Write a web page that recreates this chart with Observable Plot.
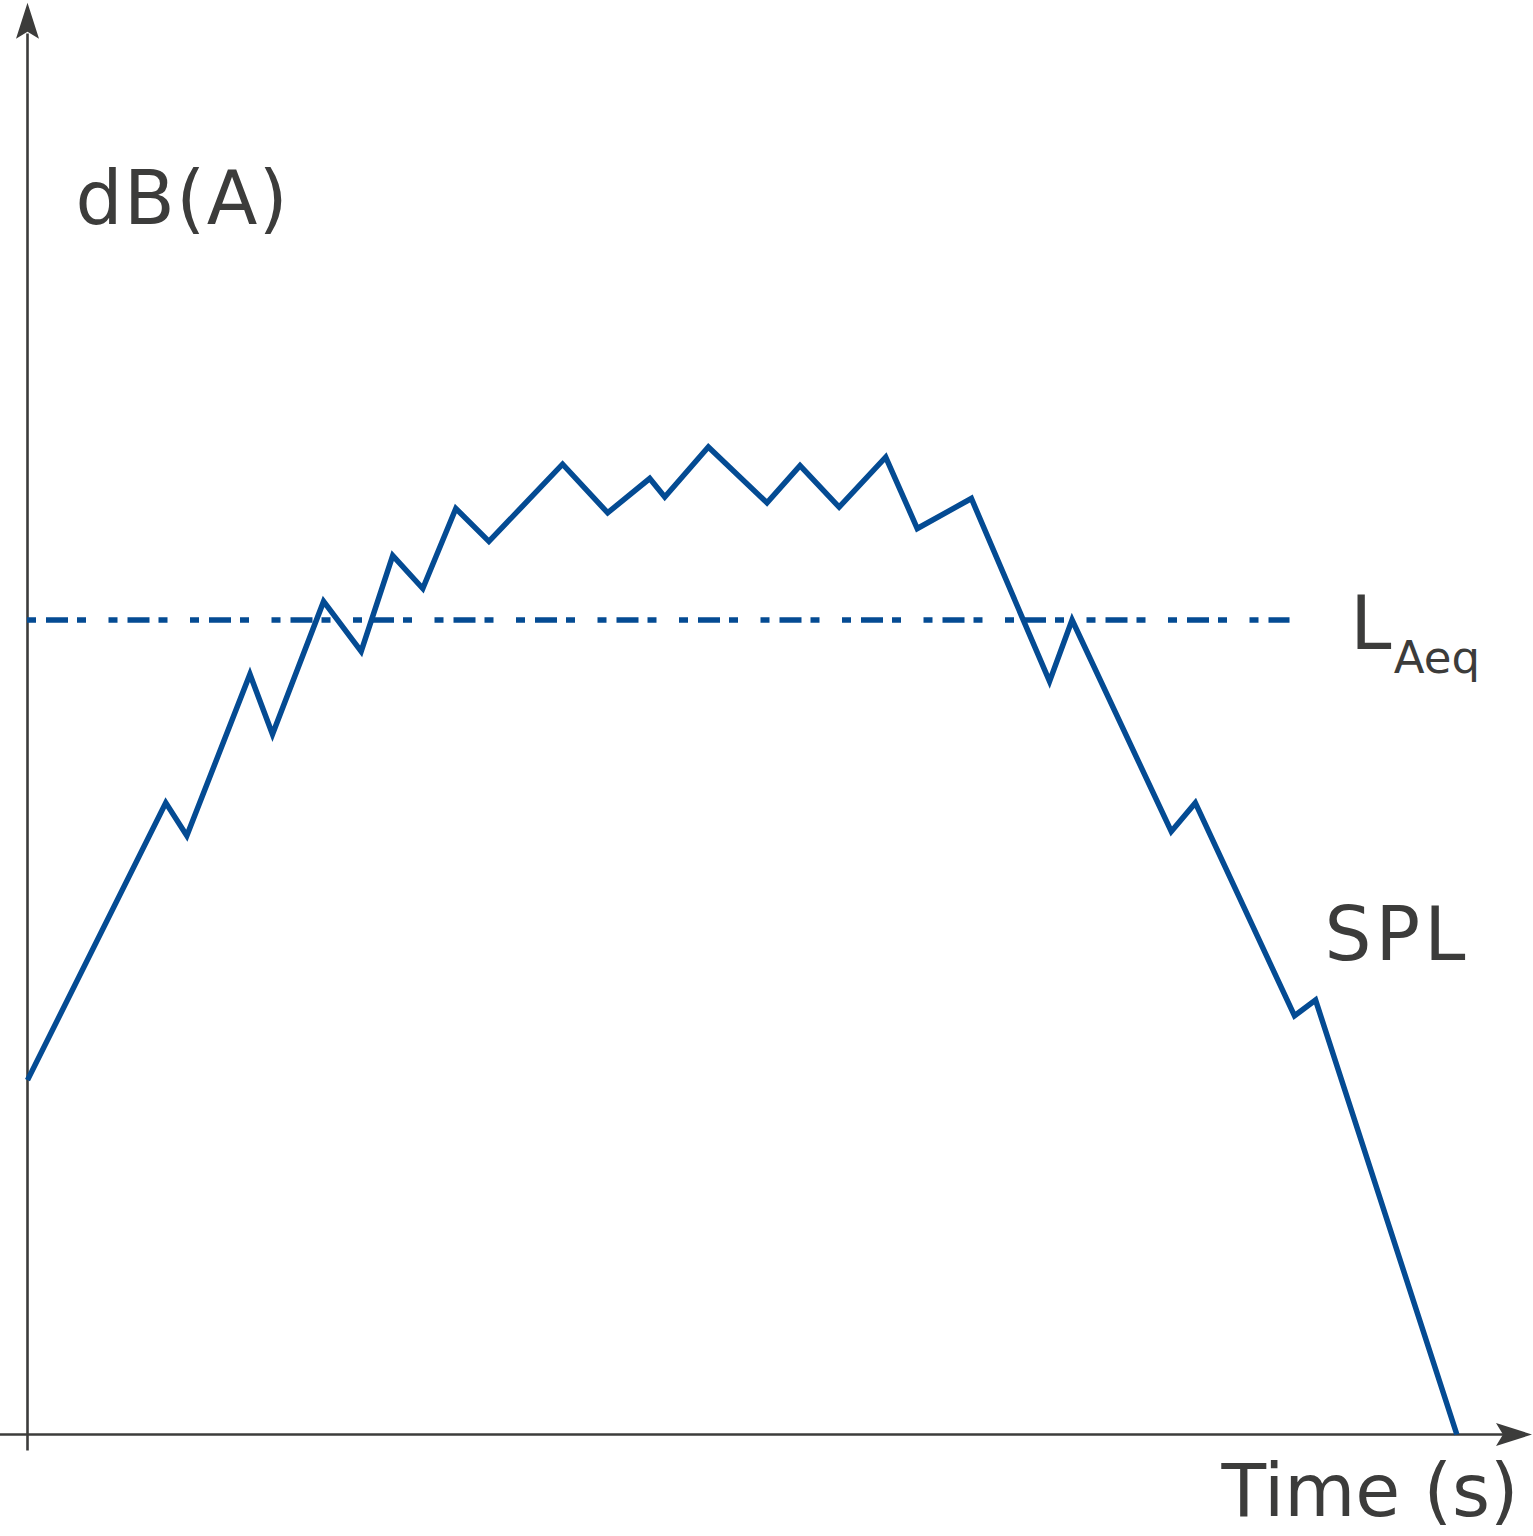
<!DOCTYPE html>
<html>
<head>
<meta charset="utf-8">
<script src="https://cdn.jsdelivr.net/npm/d3@7"></script>
<script src="https://cdn.jsdelivr.net/npm/@observablehq/plot@0.6"></script>
<style>
  html, body { margin: 0; padding: 0; background: #fff; }
</style>
</head>
<body>
<div id="chart"></div>
<script>
// SPL time series (time in arbitrary units 0–100, level in arbitrary units 0–100)
const splTime  = [0, 9.2, 10.6, 14.8, 16.3, 19.7, 22.2, 24.3, 26.3, 28.5, 30.7, 35.6, 38.6, 41.4, 42.4, 45.3, 49.2, 51.4, 54.0, 57.1, 59.2, 62.8, 68.0, 69.5, 76.1, 77.7, 84.3, 85.7, 95.1];
const splLevel = [24.8, 44.2, 41.9, 53.2, 49.0, 58.3, 54.8, 61.5, 59.2, 64.8, 62.5, 67.9, 64.5, 66.9, 65.6, 69.1, 65.2, 67.8, 64.9, 68.4, 63.4, 65.5, 52.7, 57.0, 42.2, 44.2, 29.3, 30.4, 0];

// Equivalent continuous level
const laeqLevel = [57.0];
const laeqEnd = 84.0;

// Labels
const yAxisLabel = ["dB(A)"];
const xAxisLabel = ["Time (s)"];
const laeqMain = ["L"];
const laeqSub = ["Aeq"];
const splLabel = ["SPL"];

const spl = splTime.map((t, i) => ({t, v: splLevel[i]}));

const INK = "#3c3c3b";
const BLUE = "#044b93";
const FONT = "DejaVu Sans, sans-serif";

// filled concave arrowhead, tip at the origin, pointing up
const arrowHead = {
  draw(context) {
    context.moveTo(0, 0);
    context.lineTo(11.5, 36);
    context.lineTo(0, 29);
    context.lineTo(-11.5, 36);
    context.closePath();
  }
};

const chart = Plot.plot({
  width: 1533,
  height: 1536,
  marginLeft: 27,
  marginRight: 3,
  marginTop: 5,
  marginBottom: 102,
  x: {domain: [0, 100], axis: null},
  y: {domain: [0, 100], axis: null},
  style: {background: "#fff", overflow: "visible"},
  marks: [
    // axes
    Plot.ruleX([0], {y1: -1.15, y2: 98, stroke: INK, strokeWidth: 2.6}),
    Plot.ruleY([0], {x1: -1.8, x2: 99, stroke: INK, strokeWidth: 2.6}),
    Plot.dot([{x: 0, y: 100.2}], {x: "x", y: "y", r: 10, symbol: arrowHead, fill: INK, stroke: "none"}),
    Plot.dot([{x: 100.1, y: 0}], {x: "x", y: "y", r: 10, symbol: arrowHead, fill: INK, stroke: "none", rotate: 90}),
    // LAeq
    Plot.ruleY(laeqLevel, {x1: 0, x2: laeqEnd, stroke: BLUE, strokeWidth: 5.5, strokeDasharray: "9,10,22,9,9,22.5", strokeLinecap: "butt"}),
    // SPL
    Plot.line(spl, {x: "t", y: "v", stroke: BLUE, strokeWidth: 5.5, strokeLinejoin: "miter", strokeMiterlimit: 10, strokeLinecap: "butt"}),
    // labels
    Plot.text(yAxisLabel, {x: 3.2, y: 84.7, text: d => d, textAnchor: "start", lineAnchor: "bottom", fontSize: 74, fontFamily: FONT, fill: INK}),
    Plot.text(xAxisLabel, {x: 99.2, y: -5.67, text: d => d, textAnchor: "end", lineAnchor: "bottom", fontSize: 73, fontFamily: FONT, fill: INK}),
    Plot.text(laeqMain, {x: 88.0, y: 55.0, text: d => d, textAnchor: "start", lineAnchor: "bottom", fontSize: 74, fontFamily: FONT, fill: INK}),
    Plot.text(laeqSub, {x: 90.9, y: 53.3, text: d => d, textAnchor: "start", lineAnchor: "bottom", fontSize: 45, fontFamily: FONT, fill: INK}),
    Plot.text(splLabel, {x: 86.3, y: 33.2, text: d => d, textAnchor: "start", lineAnchor: "bottom", fontSize: 74, fontFamily: FONT, fill: INK})
  ]
});
// widen the lettering a little toward the reference's geometric face
const spacing = {"dB(A)": "1.5px", "SPL": "4px"};
d3.select(chart).selectAll("text").each(function() {
  const s = spacing[this.textContent];
  if (s) this.setAttribute("letter-spacing", s);
});
document.getElementById("chart").appendChild(chart);
</script>
</body>
</html>
